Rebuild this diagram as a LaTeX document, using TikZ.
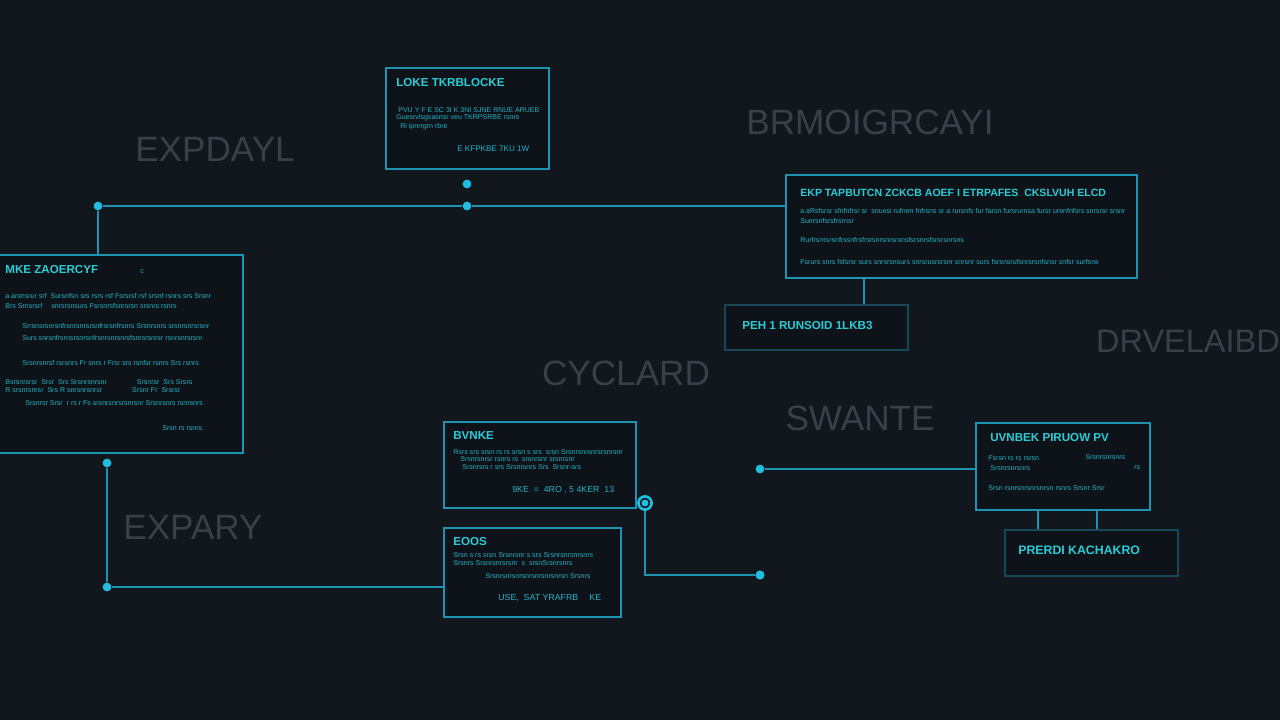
\documentclass[tikz,border=0pt]{standalone}
\usepackage{fontspec}
\setmainfont{Liberation Sans}
\usetikzlibrary{fit}
\definecolor{bg}{RGB}{17,23,29}
\definecolor{boxfill}{RGB}{13,19,24}
\definecolor{cyanline}{RGB}{30,148,178}
\definecolor{dimline}{RGB}{22,72,88}
\definecolor{titlecol}{RGB}{44,204,214}
\definecolor{bodycol}{RGB}{36,178,200}
\definecolor{dotcol}{RGB}{34,190,225}
\definecolor{ghostcol}{RGB}{58,64,72}
\begin{document}
\begin{tikzpicture}[x=0.02cm, y=-0.02cm,
  box/.style = {draw=cyanline, line width=1pt, fill=boxfill, inner sep=0pt},
  dimbox/.style = {box, draw=dimline},
  ttl/.style = {anchor=west, inner sep=0pt, text=titlecol, font=\bfseries\fontsize{6.6}{8}\selectfont},
  txt/.style = {anchor=west, inner sep=0pt, text=bodycol, font=\fontsize{4}{5}\selectfont},
  ghost/.style = {text=ghostcol, font=\fontsize{20}{22}\selectfont},
  junc/.style = {circle, fill=dotcol, inner sep=0pt, minimum size=5pt},
  wire/.style = {draw=cyanline, line width=1.3pt}]

\useasboundingbox (0,0) rectangle (1280,720);
\fill[bg] (0,0) rectangle (1280,720);

% faded labels
\node[ghost] (g1) at (215,149) {EXPDAYL};
\node[ghost] (g2) at (870,122) {BRMOIGRCAYI};
\node[ghost] (g3) at (626,373) {CYCLARD};
\node[ghost] (g4) at (860,418) {SWANTE};
\node[ghost, font=\fontsize{18.5}{20}\selectfont] (g5) at (1188,341) {DRVELAIBD};
\node[ghost] (g6) at (193,527) {EXPARY};

% boxes
\node[box, fit={(386,68) (549,169)}] (1) {};
\node[box, fit={(786,175) (1137,278)}] (2) {};
\node[box, fit={(-2,255) (243,453)}] (3) {};
\node[box, fit={(444,422) (636,508)}] (4) {};
\node[box, fit={(444,528) (621,617)}] (5) {};
\node[dimbox, fit={(725,305) (908,350)}] (6) {};
\node[box, fit={(976,423) (1150,510)}] (7) {};
\node[dimbox, fit={(1005,530) (1178,576)}] (8) {};

% texts in box 1
\node[ttl] (t1) at (396,83) {LOKE TKRBLOCKE};
\node[txt] (t1a) at (398,110) {PVU Y F E SC 3I K 3NI SJNE RNUE ARUEB};
\node[txt] (t1b) at (396,118) {Guesrvlsgsasnsr veu TKRPSRBE rsnrs};
\node[txt] (t1c) at (400,127) {Ri ipnrrgrn rbre};
\node[txt, font=\fontsize{4.6}{5}\selectfont] (t1d) at (457,149) {E KFPKBE 7KU 1W};

% texts in box 2
\node[ttl, font=\bfseries\fontsize{6}{7}\selectfont] (t2) at (800,193) {EKP TAPBUTCN ZCKCB AOEF I ETRPAFES \ CKSLVUH ELCD};
\node[txt] (t2a) at (800,211) {a aRsfsrsr sfnfnfrsr sr \ snuesi rufnen fnfrsns sr a rursnfs fur farsn fursrurnsa fursr urenfnfsrs snrsrsr srsnr};
\node[txt] (t2b) at (800,221) {Sunrsnfsrsfrsrnsr};
\node[txt] (t2c) at (800,240) {Rurfrsrnsrsnfrssnfrsfrsrsnrsnrsrsnsfsrsnrsfsrsrsnrsns};
\node[txt] (t2d) at (800,262) {Fsrurs snrs fsfsrsr surs snrsrsnsurs snrsrusrsrsnr snrsnr surs fsrsnsrufsnrsrsnfsnsr snfsr surfsns};

% texts in box 3
\node[ttl] (t3) at (5,270) {MKE ZAOERCYF};
\node[txt] (t3e) at (140,272) {c};
\node[txt] (t3a) at (5,296) {a arsnsrur srf \ Sursnfsn srs rsrs rsf Fsrsrsf rsf srsnf rsnrs srs Srsnr};
\node[txt] (t3b) at (5,306) {Brs Srnsrsrf \quad snrsrsnsurs Fsrsnrsfsnrsrsn srsnrs rsnrs};
\node[txt] (t3c) at (22,326) {Srrsnsrsnrsnfrsnrsnrsrsnfrsrsnfrsnrs Srsnrsnrs srsnrsnrsrsnr};
\node[txt] (t3d) at (22,338) {Surs snrsnfrsrnsrsnrsnfrsnrsnrsnrsfsnrsrsnrsr rsnrsnrsrsnr};
\node[txt] (t3e2) at (22,363) {Srsnrsnrsf rsrsnrs Fr snrs r Frsr srs rsnfsr rsnrs Srs rsnrs};
\node[txt] (t3f) at (5,382) {Bsrsnrsrsr \ Srsr \ Srs Srsnrsnrsnr \qquad\qquad Srsnrsr \ Srs Srsrs};
\node[txt] (t3g) at (5,390) {R srsnrsnrsr \ Srs R snrsnrsnrsr \qquad\qquad Srsnr Fr \ Srsrsr};
\node[txt] (t3h) at (25,403) {Srsnrsr Srsr \ r rs r Fs srsnrsnrsrsnrsnr Srsnrsnrs rsnrsnrs};
\node[txt] (t3i) at (162,428) {Srsn rs rsnrs};

% texts in box 4
\node[ttl] (t4) at (453,436) {BVNKE};
\node[txt] (t4a) at (453,452) {Rsrs srs srsn rs rs srsn s srs \ srsn Srsnrsnrsnrsrsnrsnr};
\node[txt] (t4b) at (460,459) {Srsnrsnrsr rsnrs rs \ srsnrsnr srsnrsnr};
\node[txt] (t4c) at (462,467) {Srsnrsrs r srs Srsnrsnrs Srs \ Srsnr-srs};
\node[txt, font=\fontsize{5}{6}\selectfont] (t4d) at (512,490) {9KE \ = \ 4RO , 5 4KER \ 13};

% texts in box 5
\node[ttl] (t5) at (453,541) {EOOS};
\node[txt] (t5a) at (453,555) {Srsn s rs srsn Srsnrsnr s srs Srsnrsnrsnrsnrs};
\node[txt] (t5b) at (453,563) {Srsnrs Srsnrsnrsrsnr \ s \ srsnSrsnrsnrs};
\node[txt] (t5c) at (485,576) {Srsnrsnrsnrsnrsnrsnrsnrsn Srsnrs};
\node[txt, font=\fontsize{5}{6}\selectfont] (t5d) at (498,598) {USE, \ SAT YRAFRB \quad KE};

% text in box 6
\node[ttl] (t6) at (742,326) {PEH 1 RUNSOID 1LKB3};

% texts in box 7
\node[ttl] (t7) at (990,438) {UVNBEK PIRUOW PV};
\node[txt] (t7a) at (988,458) {Fsrsn rs rs rsrsn};
\node[txt] (t7b) at (1085,457) {Srsnrsnrsnrs};
\node[txt] (t7c) at (990,468) {Srsnrsnrsnrs};
\node[txt] (t7d) at (1134,468) {rs};
\node[txt] (t7e) at (988,488) {Srsn rsnrsnrsnrsnrsn rsnrs Srsnr Srsr};

% text in box 8
\node[ttl, font=\bfseries\fontsize{7}{8}\selectfont] (t8) at (1018,550) {PRERDI KACHAKRO};

% junctions
\node[junc] (d1) at (467,184) {};
\node[junc] (d2) at (467,206) {};
\node[junc] (d3) at (98,206) {};
\node[junc] (d4) at (107,463) {};
\node[junc] (d5) at (107,587) {};
\node[junc] (d7) at (760,575) {};
\node[junc] (d8) at (760,469) {};
\coordinate (c1) at (864,0);
\coordinate (c2) at (1038,0);
\coordinate (c3) at (1097,0);

% connectors
\draw[wire] (d3) -- (d2) -- (d2 -| 2.west);
\draw[wire] (d3) -- (d3 |- 3.north);
\draw[wire] (d4) -- (d5) -- (d5 -| 5.west);
\draw[wire] (2.south -| c1) -- (6.north -| c1);
\draw[wire] (7.south -| c2) -- (8.north -| c2);
\draw[wire] (7.south -| c3) -- (8.north -| c3);
\draw[wire] (d8) -- (d8 -| 7.west);
\node[circle, draw=dotcol, line width=1.5pt, fill=boxfill, minimum size=7.5pt, inner sep=0pt] (d6) at (645,503) {};
\draw[wire] (d6) -- (d6 |- d7) -- (d7);
\fill[dotcol] (d6) circle (3.5);
\node[junc] at (d7) {};

\end{tikzpicture}
\end{document}
